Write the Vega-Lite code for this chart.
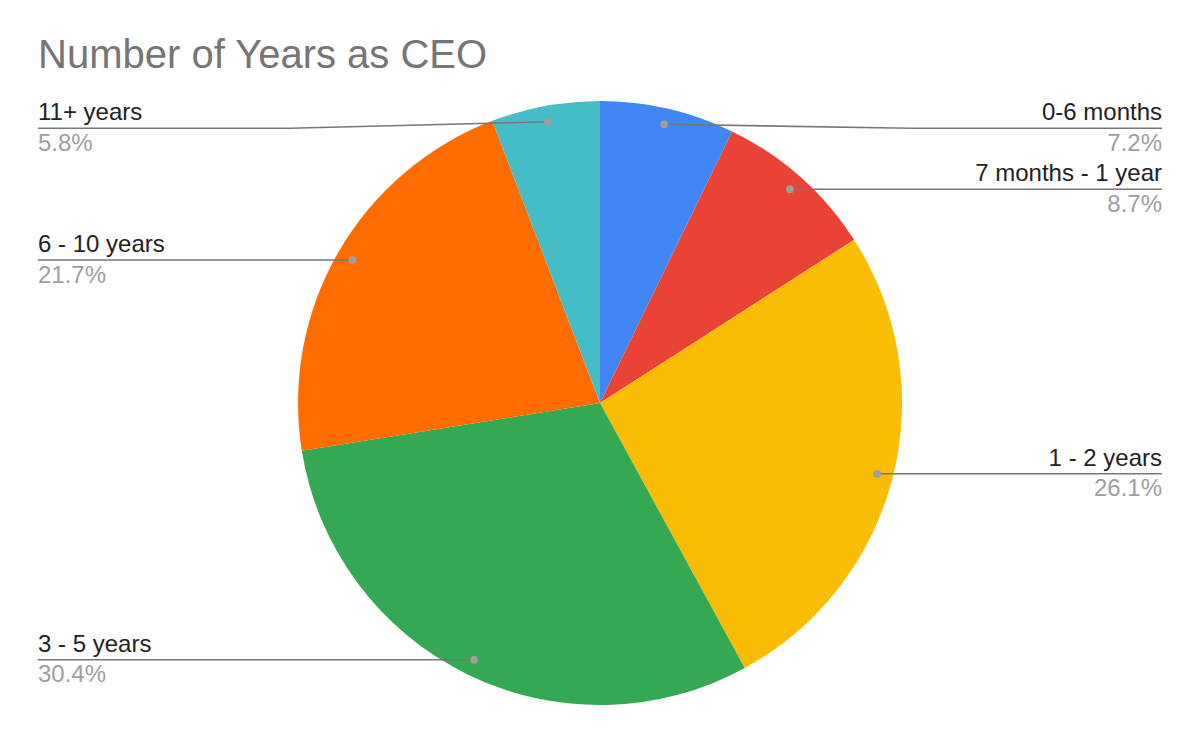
{
  "$schema": "https://vega.github.io/schema/vega-lite/v6.json",
  "width": 1200,
  "height": 678,
  "autosize": {"type": "none"},
  "padding": {"top": 64, "left": 0, "right": 0, "bottom": 0},
  "background": "white",
  "title": {
    "text": "Number of Years as CEO",
    "anchor": "start",
    "frame": "group",
    "dx": 38,
    "offset": -12,
    "fontSize": 40,
    "fontWeight": "normal",
    "font": "Liberation Sans",
    "color": "#757575"
  },
  "data": {
    "values": [
      {"category": "0-6 months", "share": 0.072, "rank": 1},
      {"category": "7 months - 1 year", "share": 0.087, "rank": 2},
      {"category": "1 - 2 years", "share": 0.261, "rank": 3},
      {"category": "3 - 5 years", "share": 0.304, "rank": 4},
      {"category": "6 - 10 years", "share": 0.217, "rank": 5},
      {"category": "11+ years", "share": 0.058, "rank": 6}
    ]
  },
  "transform": [
    {"window": [{"op": "sum", "field": "share", "as": "cum"}], "sort": [{"field": "rank"}]},
    {"joinaggregate": [{"op": "sum", "field": "share", "as": "total"}]},
    {"calculate": "2 * PI * (datum.cum - datum.share / 2) / datum.total", "as": "mid"},
    {"calculate": "286 * sin(datum.mid)", "as": "dotx"},
    {"calculate": "286 * cos(datum.mid)", "as": "doty"},
    {"calculate": "datum.mid < PI ? 1 : -1", "as": "side"},
    {"calculate": "min(datum.doty, 274.7)", "as": "ly"},
    {"calculate": "datum.ly < datum.doty ? datum.side * 310 : datum.dotx", "as": "ex"},
    {"calculate": "datum.side * 562", "as": "lx"}
  ],
  "layer": [
    {
      "mark": {"type": "arc", "outerRadius": 302},
      "encoding": {
        "theta": {"field": "share", "type": "quantitative", "stack": true},
        "order": {"field": "rank", "type": "quantitative"},
        "color": {
          "field": "category",
          "type": "nominal",
          "scale": {
            "domain": ["0-6 months", "7 months - 1 year", "1 - 2 years", "3 - 5 years", "6 - 10 years", "11+ years"],
            "range": ["#4285F4", "#EA4335", "#FBBC04", "#34A853", "#FF6D01", "#46BDC6"]
          },
          "legend": null
        }
      }
    },
    {
      "mark": {"type": "rule", "color": "#777777", "strokeWidth": 1.6},
      "encoding": {
        "x": {"field": "dotx", "type": "quantitative", "scale": {"domain": [-600, 600], "nice": false, "zero": false}, "axis": null},
        "y": {"field": "doty", "type": "quantitative", "scale": {"domain": [-339, 339], "nice": false, "zero": false}, "axis": null},
        "x2": {"field": "ex"},
        "y2": {"field": "ly"}
      }
    },
    {
      "mark": {"type": "rule", "color": "#777777", "strokeWidth": 1.6},
      "encoding": {
        "x": {"field": "ex", "type": "quantitative"},
        "y": {"field": "ly", "type": "quantitative"},
        "x2": {"field": "lx"},
        "y2": {"field": "ly"}
      }
    },
    {
      "mark": {"type": "point", "filled": true, "size": 60, "color": "#9e9e9e", "opacity": 1},
      "encoding": {
        "x": {"field": "dotx", "type": "quantitative"},
        "y": {"field": "doty", "type": "quantitative"}
      }
    },
    {
      "mark": {
        "type": "text",
        "font": "Liberation Sans",
        "fontSize": 24,
        "color": "#222222",
        "baseline": "alphabetic",
        "dy": -8,
        "align": {"expr": "datum.side > 0 ? 'right' : 'left'"}
      },
      "encoding": {
        "x": {"field": "lx", "type": "quantitative"},
        "y": {"field": "ly", "type": "quantitative"},
        "text": {"field": "category"}
      }
    },
    {
      "mark": {
        "type": "text",
        "font": "Liberation Sans",
        "fontSize": 24,
        "color": "#9e9e9e",
        "baseline": "alphabetic",
        "dy": 22.5,
        "align": {"expr": "datum.side > 0 ? 'right' : 'left'"}
      },
      "encoding": {
        "x": {"field": "lx", "type": "quantitative"},
        "y": {"field": "ly", "type": "quantitative"},
        "text": {"field": "share", "format": ".1%"}
      }
    }
  ],
  "config": {
    "view": {"stroke": null}
  }
}
